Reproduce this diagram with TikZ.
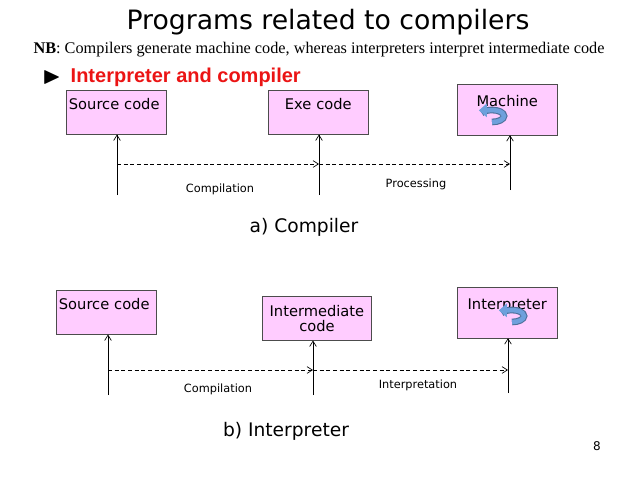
\documentclass[tikz,border=0pt]{standalone}
\usepackage{amssymb}
\usepackage{fontspec}
\setmainfont{Liberation Serif}
\newfontfamily\slidefont{DejaVu Sans}
\newfontfamily\boldsans{Liberation Sans}
\usetikzlibrary{arrows.meta}
\definecolor{boxpink}{RGB}{255,204,255}
\definecolor{swirl}{RGB}{110,160,220}
\definecolor{slidered}{RGB}{235,20,20}
\tikzset{
  prog/.style={draw=black!70,fill=boxpink,minimum width=75pt,minimum height=33pt,inner sep=2pt,font=\slidefont\fontsize{11}{13}\selectfont},
  feed/.style={-{Straight Barb[length=4pt,width=5pt]},line width=0.5pt},
  flow/.style={-{Straight Barb[length=4pt,width=5pt]},densely dashed,line width=0.5pt},
  steplbl/.style={font=\slidefont\fontsize{8.5}{10}\selectfont},
  caption/.style={font=\slidefont\fontsize{14}{16}\selectfont},
}
\begin{document}
\begin{tikzpicture}[x=0.75pt,y=0.75pt,yscale=-1,xscale=1]
    \useasboundingbox (0,0) rectangle (638,478);

    % Text Node
    \node (title) at (328,22) {\slidefont\fontsize{20}{24}\selectfont Programs related to compilers};
    \node (nb) at (319,50) {\fontsize{12.2}{14}\selectfont\textbf{NB}: Compilers generate machine code, whereas interpreters interpret intermediate code};
    \node (bullet) [anchor=west,scale=1.8] at (34,77) {$\blacktriangleright$};
    \node (head) [anchor=west] at (66,77) {\boldsans\bfseries\fontsize{15}{18}\selectfont\color{slidered}Interpreter and compiler};

    %Boxes: compiler
    \node (srcA) [prog,anchor=north west,align=left,minimum width=75pt,text width=71pt] at (66,90) {Source code\\[-4pt]\strut};
    \node (exe) [prog,anchor=north west,align=center,text width=71pt] at (268,90) {Exe code\\[-4pt]\strut};
    \node (mach) [prog,anchor=north west,align=center,text width=71pt,minimum height=38pt] at (457,84) {Machine\\[-4pt]\strut};

    %Lines: compiler
    \coordinate (a1) at (117,195);
    \coordinate (a2) at (319,195);
    \coordinate (a3) at (510,190);
    \coordinate (d1) at (117,164);
    \coordinate (d2) at (319,164);
    \coordinate (d3) at (510,164);
    \draw [feed] (a1) -- (srcA.south -| a1);
    \draw [feed] (a2) -- (exe.south -| a2);
    \draw [feed] (a3) -- (mach.south -| a3);
    \draw [flow] (d1) -- (d2);
    \draw [flow] (d2) -- (d3);
    \node (compA) [steplbl] at (220,189) {Compilation};
    \node (proc) [steplbl] at (416,184) {Processing};
    \node (capA) [caption] at (304,227) {a) Compiler};

    %Boxes: interpreter
    \node (srcB) [prog,anchor=north west,align=left,text width=71pt] at (56,290) {Source code\\[-4pt]\strut};
    \node (inter) [prog,anchor=north west,align=center,text width=78pt,minimum width=82pt] at (262,296) {Intermediate\\[-2pt]code};
    \node (interp) [prog,anchor=north west,align=center,text width=71pt,minimum height=38pt] at (457,287) {Interpreter\\[-4pt]\strut};

    %Lines: interpreter
    \coordinate (b1) at (108,395);
    \coordinate (b2) at (313,395);
    \coordinate (b3) at (508,393);
    \coordinate (e1) at (108,370);
    \coordinate (e2) at (313,370);
    \coordinate (e3) at (508,370);
    \draw [feed] (b1) -- (srcB.south -| b1);
    \draw [feed] (b2) -- (inter.south -| b2);
    \draw [feed] (b3) -- (interp.south -| b3);
    \draw [flow] (e1) -- (e2);
    \draw [flow] (e2) -- (e3);
    \node (compB) [steplbl] at (218,389) {Compilation};
    \node (intl) [steplbl] at (418,385) {Interpretation};
    \node (capB) [caption] at (286,431) {b) Interpreter};
    \node (page) [font=\slidefont\fontsize{9}{11}\selectfont] at (597,446) {8};

    %Curved arrows
    \foreach \cx/\cy in {508/130, 528/330} {
      \draw [line width=5pt,draw=swirl!70!black] (\cx-16,\cy-8) arc[start angle=90,end angle=-150,x radius=12,y radius=6];
      \draw [line width=3.4pt,draw=swirl,-{Triangle[length=6pt,width=10pt]}] (\cx-16,\cy-8) arc[start angle=90,end angle=-110,x radius=12,y radius=6] -- ++(-9,0);
    }
\end{tikzpicture}
\end{document}
